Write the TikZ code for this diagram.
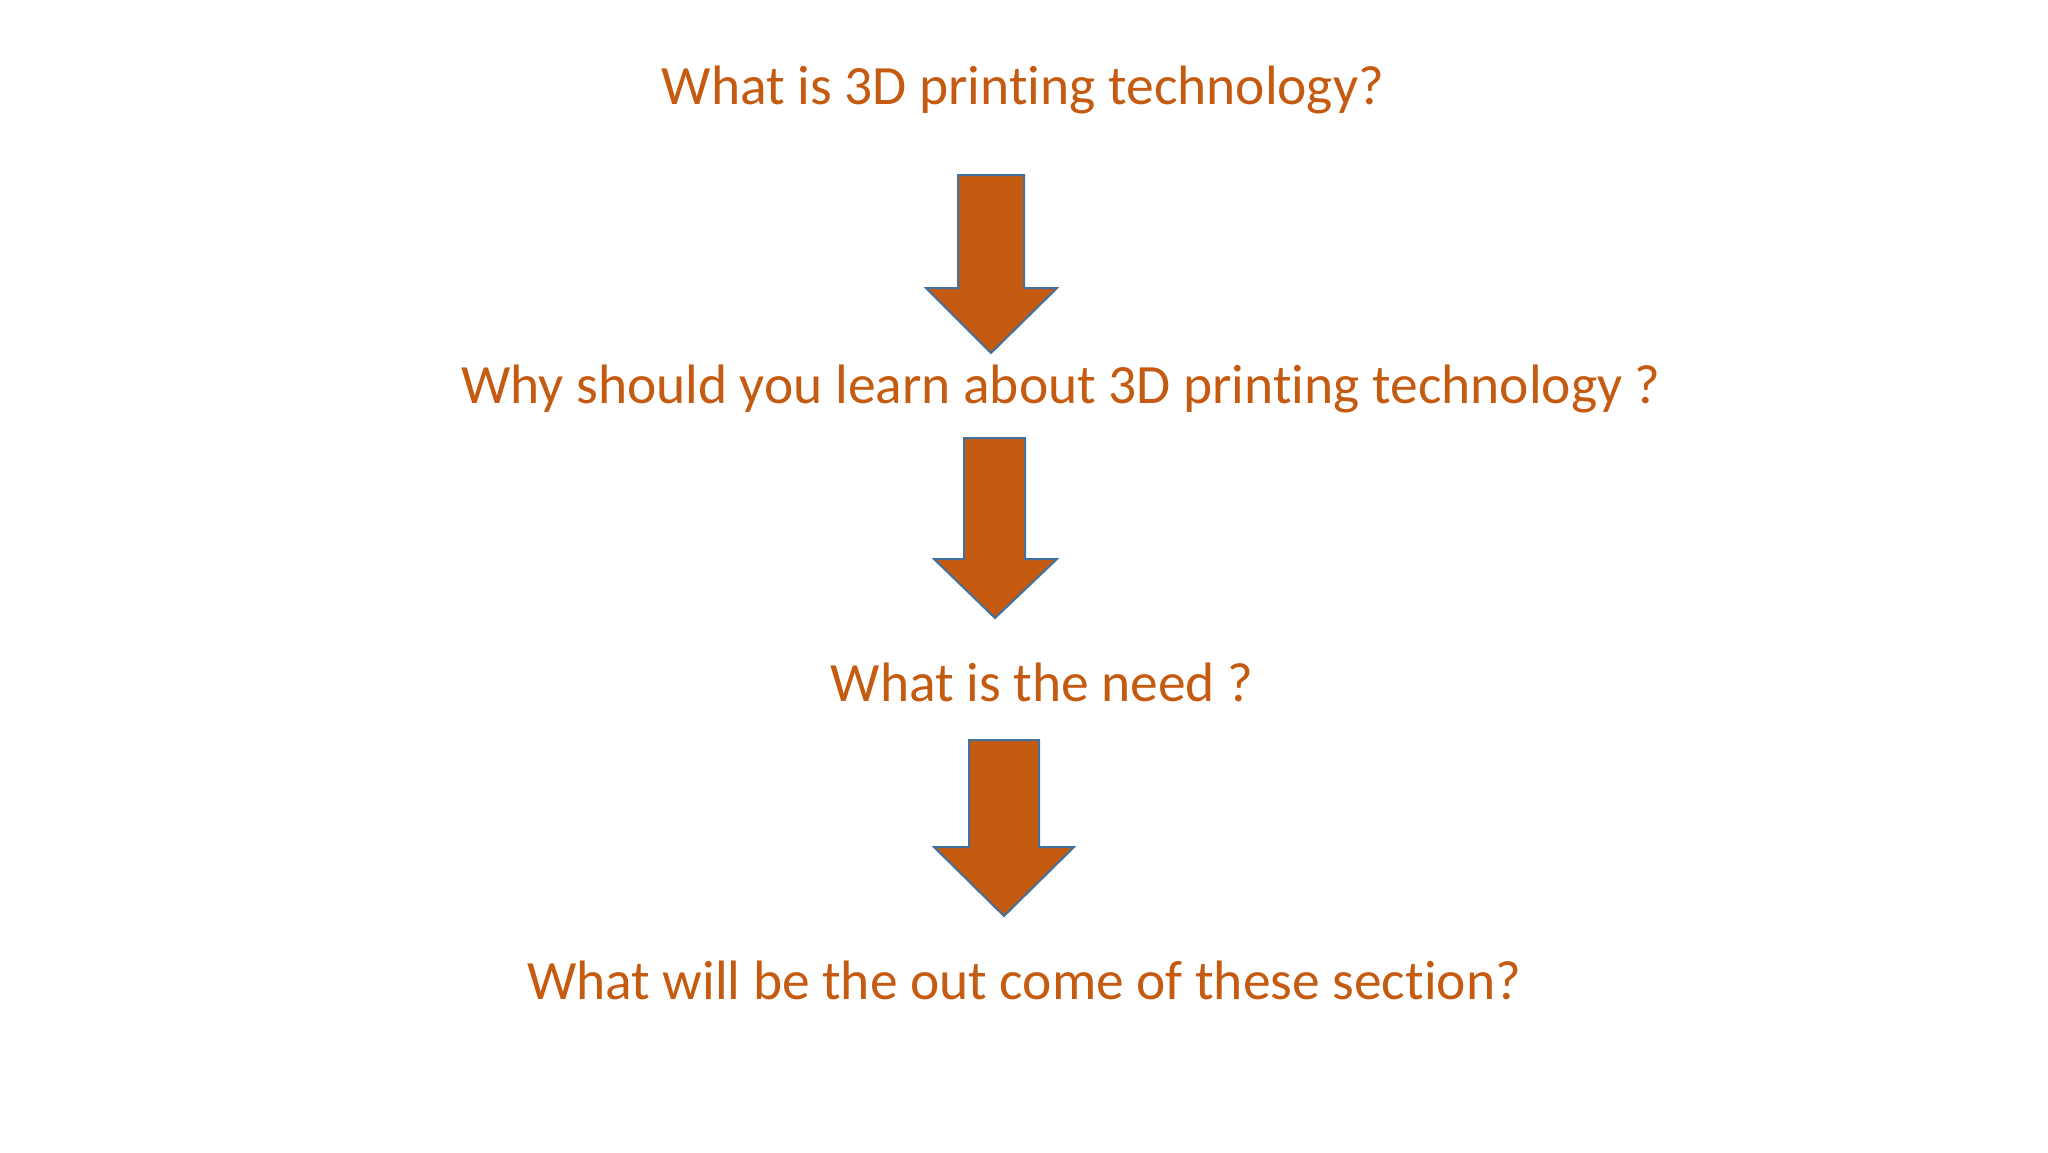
\documentclass[tikz,border=0pt]{standalone}
\usepackage{fontspec}
\setmainfont[Ligatures=NoCommon]{Carlito}
\definecolor{ttl}{HTML}{C55A11}
\definecolor{arfill}{HTML}{C55A11}
\definecolor{arline}{HTML}{41719C}
\tikzset{
  qtext/.style={text=ttl, font=\fontsize{27.75}{33}\selectfont, anchor=base, inner sep=0pt},
  downarrow/.style={fill=arfill, draw=arline, line width=1pt, line join=miter}
}
\begin{document}
\begin{tikzpicture}[x=0.5pt,y=-0.5pt]
\useasboundingbox (0,0) rectangle (2048,1152);
\node[qtext] (q1) at (1023,104) {What is 3D printing technology?};
\node[qtext] (q2) at (1061,403) {Why should you learn about 3D printing technology ?};
\node[qtext] (q3) at (1042,701) {What is the need ?};
\node[qtext] (q4) at (1024,999) {What will be the out come of these section?};
\draw[downarrow] (958,175) -- (1024,175) -- (1024,288) -- (1057,288) -- (991,353) -- (926,288) -- (958,288) -- cycle;
\draw[downarrow] (964,438) -- (1025,438) -- (1025,559) -- (1057,559) -- (995,618) -- (934,559) -- (964,559) -- cycle;
\draw[downarrow] (969,740) -- (1039,740) -- (1039,847) -- (1074,847) -- (1004,916) -- (934,847) -- (969,847) -- cycle;
\end{tikzpicture}
\end{document}
